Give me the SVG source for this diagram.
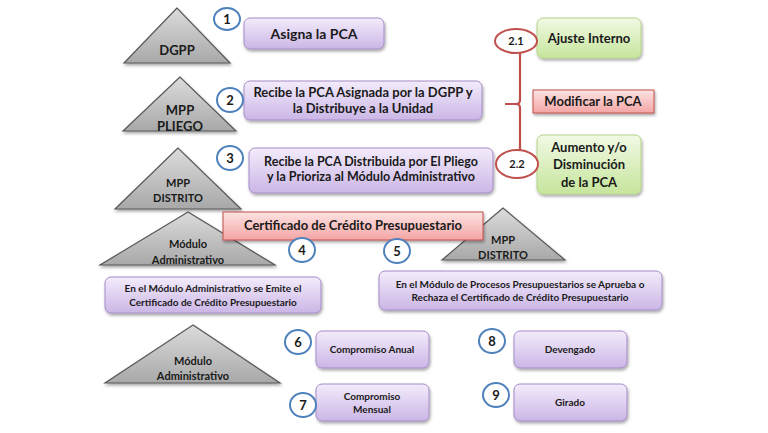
<svg xmlns="http://www.w3.org/2000/svg" width="768" height="433" viewBox="0 0 768 433">
<defs>
<linearGradient id="gTri" x1="0" y1="0" x2="0" y2="1"><stop offset="0" stop-color="#dcdcdc"/><stop offset="1" stop-color="#a8a8a8"/></linearGradient>
<linearGradient id="gPur" x1="0" y1="0" x2="0" y2="1"><stop offset="0" stop-color="#f3ecfb"/><stop offset="1" stop-color="#cbb6e6"/></linearGradient>
<linearGradient id="gGrn" x1="0" y1="0" x2="0" y2="1"><stop offset="0" stop-color="#f1f9e4"/><stop offset="1" stop-color="#c6e59c"/></linearGradient>
<linearGradient id="gRed" x1="0" y1="0" x2="0" y2="1"><stop offset="0" stop-color="#fde3e3"/><stop offset="1" stop-color="#f3a5a4"/></linearGradient>
<filter id="sh" x="-10%" y="-10%" width="130%" height="140%"><feDropShadow dx="1" dy="2" stdDeviation="1.5" flood-color="#000" flood-opacity="0.35"/></filter>
</defs>
<style>
.tri{fill:url(#gTri);stroke:#595959;stroke-width:1.2;filter:url(#sh)}
.pur{fill:url(#gPur);stroke:#a68bc8;stroke-width:1;filter:url(#sh)}
.grn{fill:url(#gGrn);stroke:#b5d38a;stroke-width:1;filter:url(#sh)}
.red{fill:url(#gRed);stroke:#c0504d;stroke-width:1;filter:url(#sh)}
.cb{fill:#fff;stroke:#4f81bd;stroke-width:2}
.cr{fill:#fff;stroke:#c0504d;stroke-width:2}
text{font-family:Lato,"Liberation Sans",sans-serif;font-weight:bold;fill:#1a1a1a;text-anchor:middle}
.t14{font-size:14px}
.t13{font-size:13px}
.t125{font-size:12.5px}
.t11{font-size:11px}
.t10{font-size:10px}
.n{font-size:13px}
</style>
<rect width="768" height="433" fill="#fff"/>

<g id="tri-dgpp"><polygon class="tri" points="177,8 124,63 230,63"/><text class="t13" x="177" y="55">DGPP</text></g>
<g id="tri-pliego"><polygon class="tri" points="180,77 123,131 236,131"/><text class="t13" x="180" y="115">MPP</text><text class="t13" x="180" y="131">PLIEGO</text></g>
<g id="tri-distrito"><polygon class="tri" points="178,148 115,209 241,209"/><text class="t11" x="178" y="187">MPP</text><text class="t11" x="178" y="202">DISTRITO</text></g>
<g id="tri-modulo1"><polygon class="tri" points="188,212 100,265 275,265"/><text class="t11" x="188" y="248">Módulo</text><text class="t11" x="188" y="264">Administrativo</text></g>
<g id="tri-distrito2"><polygon class="tri" points="503,208 442,260 565,260"/><text class="t11" x="503" y="244">MPP</text><text class="t11" x="503" y="259">DISTRITO</text></g>
<g id="tri-modulo2"><polygon class="tri" points="193,325 105,383 280,383"/><text class="t11" x="193" y="365">Módulo</text><text class="t11" x="193" y="380">Administrativo</text></g>

<g id="connectors">
<path d="M520,53 V100 Q520,104 516,104 H505 M516,104 Q520,104 520,108 V150" fill="none" stroke="#c0504d" stroke-width="2.2"/>
</g>

<g id="n1"><rect class="pur" x="244" y="18" width="140" height="31" rx="6"/><text class="t14" x="314" y="39">Asigna la PCA</text></g>
<g id="n2"><rect class="pur" x="244" y="81" width="238" height="39" rx="6"/><text class="t13" x="363" y="97">Recibe la PCA Asignada por la DGPP y</text><text class="t13" x="363" y="113">la Distribuye a la Unidad</text></g>
<g id="n3"><rect class="pur" x="249" y="148" width="244" height="45" rx="6"/><text class="t125" x="371" y="166">Recibe la PCA Distribuida por El Pliego</text><text class="t125" x="371" y="181">y la Prioriza al Módulo Administrativo</text></g>
<g id="n21"><rect class="grn" x="537" y="18" width="104" height="40" rx="6"/><text class="t13" x="589" y="43">Ajuste Interno</text></g>
<g id="nmod"><rect class="red" x="533" y="90" width="121" height="23"/><text class="t13" x="593" y="106">Modificar la PCA</text></g>
<g id="n22"><rect class="grn" x="537" y="135" width="104" height="59" rx="6"/><text class="t13" x="589" y="152">Aumento y/o</text><text class="t13" x="589" y="169">Disminución</text><text class="t13" x="589" y="187">de la PCA</text></g>
<g id="ncert"><rect class="red" x="223" y="212" width="260" height="28"/><text class="t13" x="353" y="230">Certificado de Crédito Presupuestario</text></g>
<g id="n4"><rect class="pur" x="105" y="277" width="216" height="36" rx="6"/><text class="t10" x="213" y="292">En el Módulo Administrativo se Emite el</text><text class="t10" x="213" y="306">Certificado de Crédito Presupuestario</text></g>
<g id="n5"><rect class="pur" x="379" y="271" width="283" height="39" rx="6"/><text class="t10" x="520" y="288">En el Módulo de Procesos Presupuestarios se Aprueba o</text><text class="t10" x="520" y="301">Rechaza el Certificado de Crédito Presupuestario</text></g>
<g id="n6"><rect class="pur" x="316" y="331" width="113" height="37" rx="6"/><text class="t10" x="372" y="353">Compromiso Anual</text></g>
<g id="n7"><rect class="pur" x="316" y="384" width="113" height="37" rx="6"/><text class="t10" x="372" y="400">Compromiso</text><text class="t10" x="372" y="413">Mensual</text></g>
<g id="n8"><rect class="pur" x="514" y="331" width="113" height="37" rx="6"/><text class="t10" x="570" y="353">Devengado</text></g>
<g id="n9"><rect class="pur" x="514" y="384" width="113" height="37" rx="6"/><text class="t10" x="570" y="406">Girado</text></g>

<g id="c1"><ellipse class="cb" cx="227" cy="19" rx="13" ry="11"/><text class="n" x="227" y="24">1</text></g>
<g id="c2"><ellipse class="cb" cx="230" cy="100" rx="13" ry="12"/><text class="n" x="230" y="105">2</text></g>
<g id="c3"><ellipse class="cb" cx="230" cy="158" rx="13" ry="12"/><text class="n" x="230" y="163">3</text></g>
<g id="c4"><ellipse class="cb" cx="302" cy="250" rx="13" ry="12"/><text class="n" x="302" y="255">4</text></g>
<g id="c5"><ellipse class="cb" cx="397" cy="251" rx="13" ry="12"/><text class="n" x="397" y="256">5</text></g>
<g id="c6"><ellipse class="cb" cx="298" cy="342" rx="13" ry="12"/><text class="n" x="298" y="347">6</text></g>
<g id="c7"><ellipse class="cb" cx="303" cy="405" rx="13" ry="12"/><text class="n" x="303" y="410">7</text></g>
<g id="c8"><ellipse class="cb" cx="492" cy="341" rx="13" ry="12"/><text class="n" x="492" y="346">8</text></g>
<g id="c9"><ellipse class="cb" cx="496" cy="395" rx="13" ry="12"/><text class="n" x="496" y="400">9</text></g>
<g id="c21"><ellipse class="cr" cx="516" cy="41" rx="21" ry="12"/><text class="t11" x="516" y="45">2.1</text></g>
<g id="c22"><ellipse class="cr" cx="517" cy="164" rx="21" ry="14"/><text class="t11" x="517" y="168">2.2</text></g>
</svg>
